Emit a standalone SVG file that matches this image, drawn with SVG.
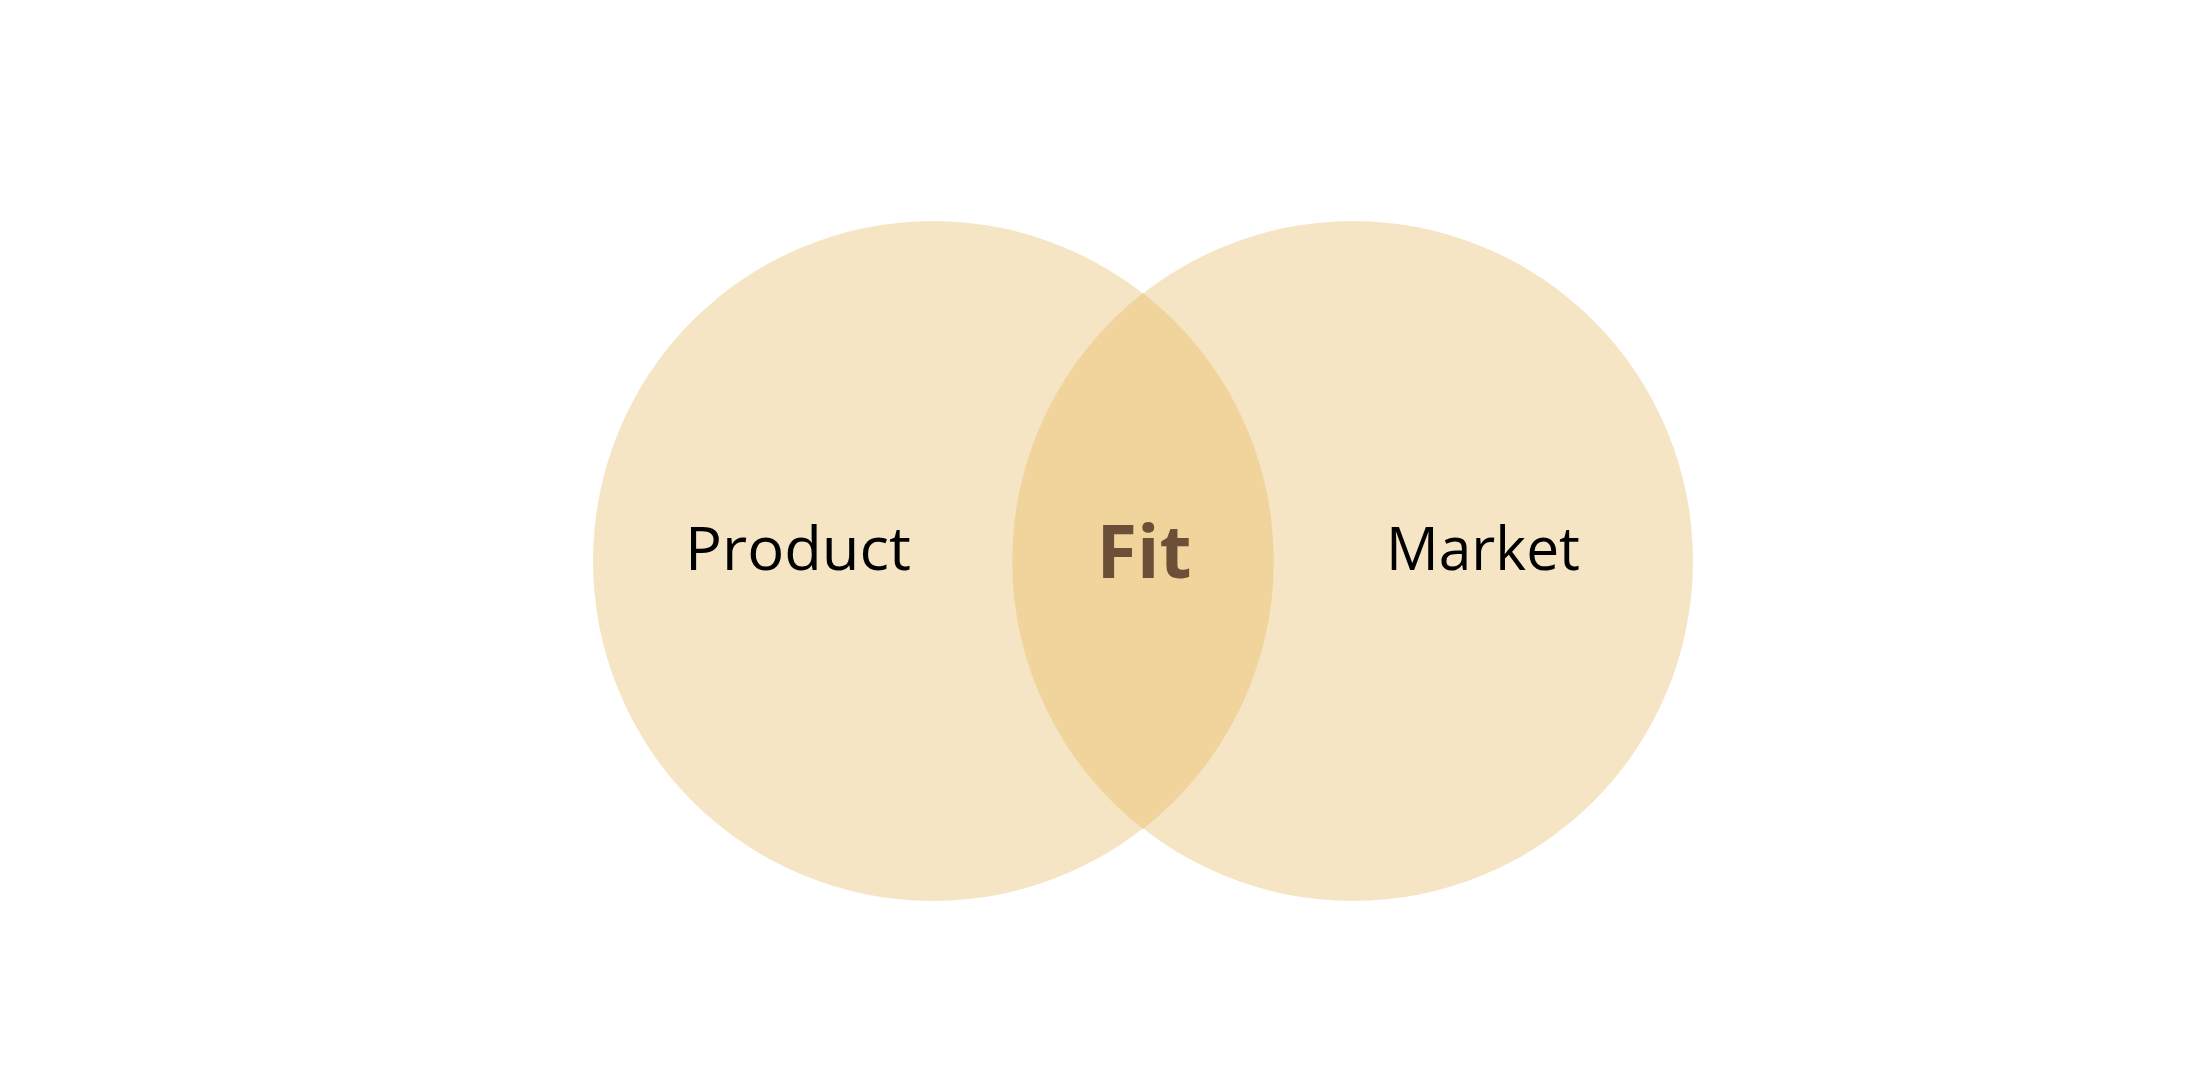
<svg xmlns="http://www.w3.org/2000/svg" width="2194" height="1072" viewBox="0 0 2194 1072">
<style>
.set{fill:#F5E5C4;}
.lens{fill:#F0D49C;}
.lbl{font-family:"Open Sans","Liberation Sans",sans-serif;font-size:60px;fill:#000000;text-anchor:middle;}
.fit{font-family:"Open Sans","Liberation Sans",sans-serif;font-size:74px;font-weight:700;fill:#6B4F36;text-anchor:middle;}
</style>
<rect width="2194" height="1072" fill="#ffffff"/>
<g id="product">
<circle class="set" cx="933" cy="561" r="340"/>
</g>
<g id="market">
<circle class="set" cx="1353" cy="561" r="340"/>
</g>
<g id="fit">
<path class="lens" d="M1143 293 A340 340 0 0 1 1143 829 A340 340 0 0 1 1143 293 Z"/>
</g>
<g id="labels">
<text class="lbl" x="798" y="570" textLength="226" lengthAdjust="spacingAndGlyphs">Product</text>
<text class="lbl" x="1483" y="570" textLength="194" lengthAdjust="spacingAndGlyphs">Market</text>
<text class="fit" x="1144" y="578" textLength="95" lengthAdjust="spacingAndGlyphs">Fit</text>
</g>
<g id="connectors"></g>
</svg>
